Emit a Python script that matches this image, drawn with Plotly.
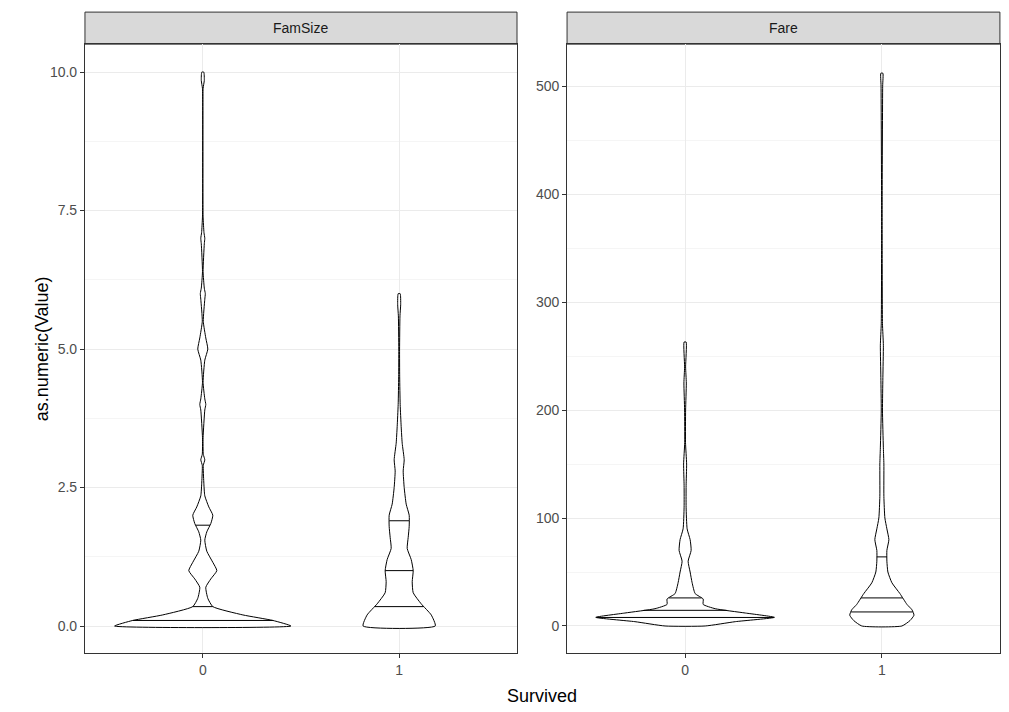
import numpy as np
import plotly.graph_objects as go

# violin outlines: value -> half width (pixels at 196 px per category)
fam0_v = [0, 0.1, 0.2, 0.35, 0.5, 0.7, 0.85, 1.0, 1.15, 1.35, 1.55, 1.7, 1.85, 2.0, 2.15, 2.35, 2.6, 2.9, 3.0, 3.1, 3.4, 3.9, 4.0, 4.1, 4.4, 4.8, 5.0, 5.2, 5.5, 5.9, 6.0, 6.1, 6.4, 6.9, 7.0, 7.1, 7.4, 9.7, 9.85, 10.0]
fam0_w = [88, 70, 40, 10, 5, 3, 8, 14, 10, 4, 2, 4, 8, 10, 6, 2, 1, 0.5, 2, 0.5, 0.3, 2, 3, 2, 0.3, 2, 5, 3, 0.5, 2, 2.5, 1.5, 0.3, 1.5, 2, 1.2, 0.3, 0.3, 1.5, 1]
fam1_v = [0, 0.2, 0.4, 0.6, 0.8, 1.0, 1.2, 1.4, 1.6, 1.8, 2.0, 2.2, 2.5, 2.8, 3.0, 3.3, 3.6, 4.0, 4.5, 5.0, 5.6, 5.8, 6.0]
fam1_w = [36, 32, 22, 14, 13, 14, 12, 8, 9, 10, 10, 7, 5, 4, 5, 3, 2, 1, 0.5, 0.4, 0.8, 1.5, 1]
fare0_v = [0, 4, 8, 12, 16, 20, 25, 30, 40, 50, 60, 70, 80, 90, 110, 130, 150, 170, 200, 225, 240, 263]
fare0_w = [20, 50, 89, 60, 30, 18, 18, 10, 7, 5, 3, 6, 5, 2, 1, 1, 1.5, 0.4, 0.5, 1.2, 0.5, 1]
fare1_v = [0, 5, 10, 15, 20, 30, 40, 50, 60, 70, 80, 90, 100, 120, 150, 165, 200, 230, 260, 280, 350, 400, 500, 512]
fare1_w = [20, 28, 32, 30, 25, 18, 10, 6, 5, 5, 7, 5, 3, 2, 2, 1.5, 0.6, 1, 1.5, 0.6, 0.3, 0.3, 0.8, 1]
fam0_q = [0.1, 0.35, 1.82]
fam1_q = [0.35, 1.0, 1.9]
fare0_q = [7.9, 14.5, 26]
fare1_q = [13, 26, 64]
categories = ["0", "1"]
panels = ["FamSize", "Fare"]

PX = 196.0
fig = go.Figure()

def violin(pos, v, w, q, xa, ya):
    v = np.array(v, float); w = np.array(w, float) / PX
    xs = np.concatenate([pos - w, (pos + w)[::-1], [pos - w[0]]])
    ys = np.concatenate([v, v[::-1], [v[0]]])
    fig.add_trace(go.Scatter(x=xs, y=ys, mode="lines", fill="toself", fillcolor="white",
                             line=dict(color="black", width=1, shape="spline", smoothing=0.5),
                             xaxis=xa, yaxis=ya, showlegend=False))
    for qq in q:
        hw = np.interp(qq, v, w)
        fig.add_trace(go.Scatter(x=[pos - hw, pos + hw], y=[qq, qq], mode="lines",
                                 line=dict(color="black", width=1), xaxis=xa, yaxis=ya, showlegend=False))

violin(0, fam0_v, fam0_w, fam0_q, "x", "y")
violin(1, fam1_v, fam1_w, fam1_q, "x", "y")
violin(0, fare0_v, fare0_w, fare0_q, "x2", "y2")
violin(1, fare1_v, fare1_w, fare1_q, "x2", "y2")

ax = dict(showline=True, linecolor="#333", mirror=True, gridcolor="#EBEBEB", zeroline=False,
          tickfont=dict(size=14, color="#4D4D4D"), ticks="outside", ticklen=4, tickcolor="#333")
y0, y1 = 0.0829, 0.938
fig.update_layout(
    width=1009, height=712, margin=dict(l=0, r=0, t=0, b=0),
    plot_bgcolor="white", paper_bgcolor="white", font=dict(family="Liberation Sans"),
    xaxis=dict(ax, domain=[0.0842, 0.5124], range=[-0.6, 1.6], tickvals=[0, 1], ticktext=categories, anchor="y"),
    xaxis2=dict(ax, domain=[0.562, 0.991], range=[-0.6, 1.6], tickvals=[0, 1], ticktext=categories, anchor="y2"),
    yaxis=dict(ax, domain=[y0, y1], range=[-0.487, 10.505], tickvals=[0, 2.5, 5, 7.5, 10],
               ticktext=["0.0", "2.5", "5.0", "7.5", "10.0"],
               minor=dict(tickvals=[1.25, 3.75, 6.25, 8.75], showgrid=True, gridcolor="#F5F5F5", ticks=""), anchor="x"),
    yaxis2=dict(ax, domain=[y0, y1], range=[-25, 538.9], tickvals=[0, 100, 200, 300, 400, 500],
                minor=dict(tickvals=[50, 150, 250, 350, 450], showgrid=True, gridcolor="#F5F5F5", ticks=""), anchor="x2"),
)
for x0, x1, t in [(0.0842, 0.5124, panels[0]), (0.562, 0.991, panels[1])]:
    fig.add_shape(type="rect", xref="paper", yref="paper", x0=x0, x1=x1, y0=y1, y1=0.983,
                  fillcolor="#D9D9D9", line=dict(color="#333", width=1), layer="below")
    fig.add_annotation(x=(x0 + x1) / 2, y=(712 - 28) / 712, xref="paper", yref="paper", text=t,
                       showarrow=False, yanchor="middle", xanchor="center",
                       font=dict(size=14, color="#1A1A1A"))
fig.add_annotation(x=0.537, y=16 / 712, xref="paper", yref="paper", text="Survived", showarrow=False,
                   yanchor="middle", font=dict(size=18, color="black"))
fig.add_annotation(x=0.03, y=0.51, xref="paper", yref="paper", text="as.numeric(Value)", showarrow=False,
                   textangle=-90, font=dict(size=18, color="black"))
fig.write_html("out.html", config={"displayModeBar": False})
with open("out.html") as f:
    html = f.read()
html = html.replace("<head>", "<head><style>html,body{margin:0;padding:0;overflow:hidden}</style>", 1)
with open("out.html", "w") as f:
    f.write(html)
